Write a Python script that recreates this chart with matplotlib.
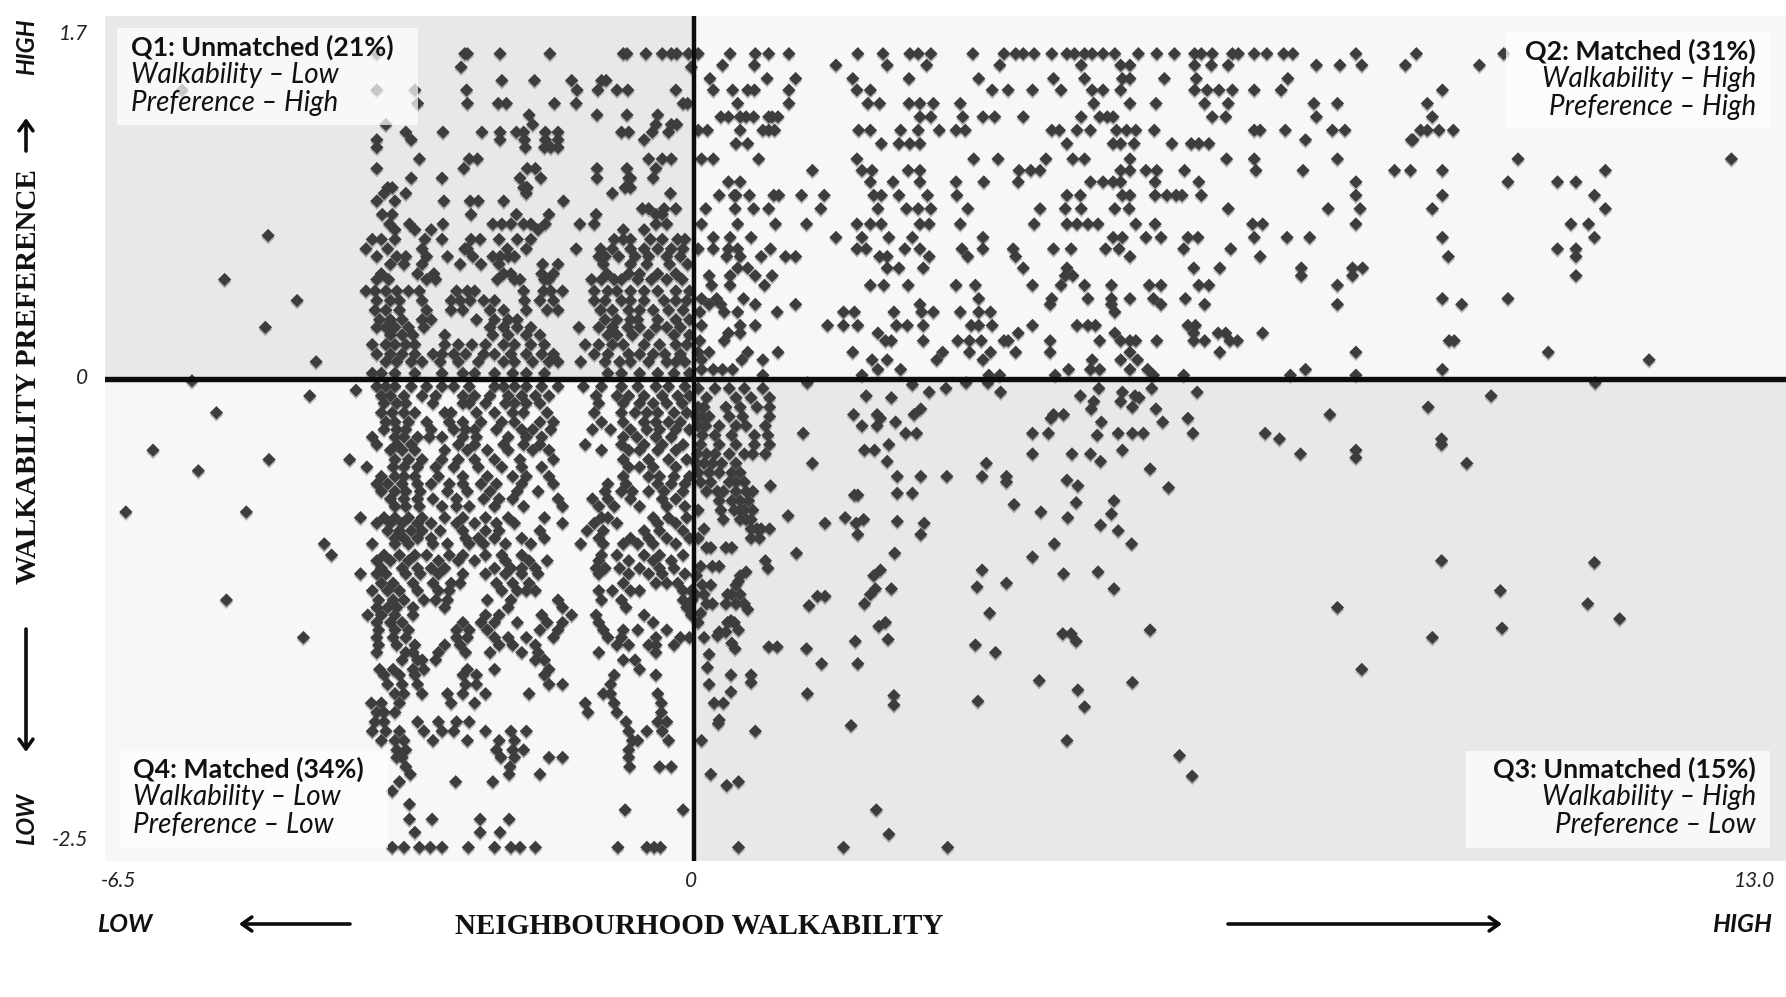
import numpy as np
import matplotlib
matplotlib.use("Agg")
import matplotlib.pyplot as plt
import matplotlib.patheffects as pe

# Each row: (preference, [walkability values])
q1_rows = [
(1.70,[-3.50,-2.53,-2.50,-2.14,-1.59,-0.78,-0.74,-0.53,-0.35,-0.25,-0.19,-0.06]),
(1.63,[-2.57,-0.03]),(1.56,[-2.12,-1.76,-1.35,-1.02,-0.97]),
(1.51,[-5.65,-3.50,-3.08,-2.51,-1.29,-1.06,-0.85,-0.73,-0.20]),
(1.44,[-3.05,-2.50,-2.16,-2.07,-1.54,-1.30,-0.12,-0.07]),
(1.38,[-1.07,-0.74,-0.40,-1.82]),(1.33,[-3.40,-1.78,-0.42,-0.25,-0.19]),
(1.29,[-3.18,-2.77,-2.34,-2.14,-1.96,-1.88,-1.64,-1.50,-0.80,-0.72,-0.46,-0.28]),
(1.25,[-3.50,-3.12,-2.14,-1.87,-1.64,-1.50,-0.55]),
(1.21,[-3.50,-1.86,-1.65,-1.58,-1.50]),
(1.15,[-2.48,-2.39,-3.03,-0.50,-0.35,-0.25]),
(1.10,[-3.50,-2.54,-1.84,-1.75,-1.07,-0.74,-0.42]),
(1.05,[-3.12,-2.78,-1.92,-1.69,-1.07,-0.72,-0.45,-0.70]),
(1.00,[-3.33,-3.38,-1.88,-1.85,-1.84,-0.76,-0.70]),
(0.97,[-3.42,-3.18,-1.85,-0.90,-0.26]),
(0.93,[-3.50,-2.76,-2.47,-2.38,-2.10,-1.44,-3.30]),
(0.89,[-0.57,-0.20,-0.50,-0.33]),
(0.86,[-3.44,-3.33,-2.46,-1.96,-1.60,-1.08,-0.35,-0.42]),
(0.81,[-3.36,-3.14,-2.77,-2.22,-2.12,-2.02,-1.88,-1.80,-1.64,-1.26,-1.10,-0.42,-0.30]),
(0.78,[-3.30,-3.08,-2.90,-1.72,-0.78,-0.55]),
(0.75,[-4.70]),
(0.73,[-3.45,-3.55,-3.30,-2.97,-2.78,-2.46,-2.36,-2.15,-1.95,-1.80,-0.88,-0.78,-0.70,-0.48,-0.35,-0.18,-0.10]),
(0.68,[-3.62,-3.38,-3.00,-2.50,-2.53,-2.06,-1.85,-1.30,-1.03,-0.90,-0.70,-0.55,-0.40,-0.25,-0.12]),
(0.64,[-3.50,-3.28,-3.18,-2.95,-2.72,-2.44,-2.22,-2.14,-2.05,-1.98,-1.05,-0.98,-0.83,-0.65,-0.50,-0.30,-0.15]),
(0.60,[-3.20,-3.00,-2.58,-2.35,-2.15,-1.67,-1.50,-1.00,-0.70,-0.52,-0.27,-0.07,-3.35]),
(0.55,[-3.45,-3.05,-2.87,-2.10,-2.02,-1.68,-1.55,-0.96,-0.72,-0.60,-0.40,-0.20]),
(0.52,[-5.18,-3.50,-3.37,-2.95,-2.85,-2.17,-1.98,-1.92,-1.65,-1.60,-1.13,-1.02,-0.88,-0.80,-0.62,-0.47,-0.30,-0.13]),
(0.46,[-3.62,-3.52,-3.40,-3.28,-3.15,-3.03,-2.62,-2.50,-2.42,-1.88,-1.66,-1.58,-1.45,-1.10,-0.95,-0.85,-0.70,-0.55,-0.40,-0.20,-0.05]),
(0.41,[-4.38,-3.50,-3.35,-3.25,-3.00,-2.68,-2.58,-2.47,-2.32,-2.20,-1.87,-1.70,-1.55,-1.10,-0.98,-0.80,-0.70,-0.55,-0.33,-0.20,-0.08]),
(0.36,[-3.52,-3.40,-3.25,-2.95,-2.68,-2.55,-2.25,-2.10,-1.85,-1.62,-1.50,-1.03,-0.90,-0.72,-0.60,-0.45,-0.28,-0.12]),
(0.31,[-3.47,-3.35,-3.22,-3.00,-2.90,-2.40,-2.20,-2.05,-1.95,-0.98,-0.85,-0.70,-0.62,-0.40,-0.20,-0.05]),
(0.27,[-4.73,-3.50,-3.40,-3.30,-3.15,-2.98,-2.25,-2.10,-1.95,-1.80,-1.27,-1.05,-0.90,-0.73,-0.60,-0.42,-0.30,-0.15]),
(0.23,[-3.35,-3.22,-3.10,-2.75,-2.22,-2.05,-1.85,-1.70,-0.95,-0.85,-0.68,-0.50,-0.22,-0.05]),
(0.18,[-3.55,-3.40,-3.30,-3.18,-3.08,-2.75,-2.60,-2.45,-2.30,-2.10,-1.98,-1.80,-1.65,-1.20,-1.05,-0.90,-0.78,-0.55,-0.38,-0.20,-0.08]),
(0.13,[-3.50,-3.35,-3.22,-3.08,-2.88,-2.78,-2.65,-2.52,-2.32,-2.20,-2.02,-1.85,-1.68,-1.55,-1.10,-0.95,-0.72,-0.60,-0.45,-0.32,-0.15]),
(0.09,[-4.17,-3.40,-3.28,-3.12,-3.00,-2.80,-2.60,-2.38,-2.10,-1.98,-1.78,-1.60,-1.50,-1.25,-0.98,-0.82,-0.70,-0.50,-0.30,-0.20,-0.10]),
(0.03,[-3.55,-3.45,-3.30,-3.08,-2.78,-2.55,-2.42,-2.20,-2.00,-1.85,-1.65,-0.95,-0.80,-0.60,-0.40,-0.22,-0.05]),
]

q2_rows = [
(1.70,[.05,.43,.73,.89,1.13,1.95,2.25,2.57,2.67,2.82,3.32,3.69,3.83,3.92,4.05,4.26,4.44,4.53,4.65,4.74,4.87,5.01,5.29,5.51,5.72,5.96,6.04,6.17,6.41,6.48,6.67,6.82,7.02,7.13,7.88,8.60,9.64]),
(1.64,[.34,.72,1.69,2.30,2.77,3.64,4.61,5.08,5.19,5.96,6.16,6.36,7.41,7.69,7.95,8.47,9.35]),
(1.57,[.19,.87,1.21,1.89,2.56,3.39,4.28,4.65,5.10,5.19,5.60,5.98,7.07]),
(1.51,[.23,.46,.64,.72,1.13,1.94,2.10,3.55,3.74,4.03,4.37,4.74,4.87,5.08,5.96,6.11,6.25,6.41,6.67,6.99,8.91]),
(1.44,[.52,1.13,2.07,2.21,2.56,2.69,2.85,3.17,4.76,5.19,5.50,6.08,6.36,7.38,7.66,8.73]),
(1.37,[.32,.41,.55,.62,.71,1.00,.89,.93,2.69,2.82,3.20,3.44,3.58,3.92,4.61,4.83,4.92,4.99,6.17,6.33,7.41,8.79]),
(1.30,[.05,.16,.55,.82,.89,.96,1.96,2.10,2.46,2.67,2.92,3.12,3.23,4.26,4.35,4.56,4.72,5.03,5.15,5.26,5.48,6.74,6.67,7.04,7.60,7.75,8.65,8.73,8.87,9.04]),
(1.25,[7.28,8.54,8.56]),
(1.23,[.50,.64,2.23,2.44,2.57,2.69,4.44,5.24,5.08,4.99,5.69,5.92,6.01,6.13]),
(1.15,[.09,.23,.77,1.94,3.33,3.62,4.19,4.51,4.65,5.19,6.34,6.67,7.66,9.81,12.35]),
(1.09,[1.41,2.00,2.12,2.55,2.69,3.87,4.01,4.12,5.08,5.19,5.38,5.51,5.84,6.69,7.25,8.34,8.53,8.91,10.85]),
(1.03,[.41,.55,2.10,2.37,2.69,3.12,3.45,3.86,4.72,4.87,4.99,5.08,5.49,6.01,7.88,9.69,10.28,10.50]),
(.96,[.50,.30,.48,.66,.95,1.01,1.28,1.55,2.14,2.23,2.44,2.78,3.13,4.44,4.60,5.10,5.19,5.49,5.63,5.74,5.81,6.04,7.88,8.91,10.72]),
(.89,[.14,.49,.71,.89,1.51,2.19,2.53,2.67,2.82,3.26,4.12,4.42,4.61,5.01,5.18,6.36,7.55,7.93,8.79,10.85]),
(.81,[.09,.52,.97,1.34,1.94,2.10,2.23,2.69,2.80,3.17,4.05,4.44,4.56,4.69,4.81,5.26,5.49,6.65,6.77,7.88,10.44,10.65]),
(.74,[.23,.43,.68,1.69,2.32,2.60,2.00,3.44,4.99,5.10,5.38,5.56,5.88,6.00,6.67,7.06,7.33,8.91,10.72]),
(.68,[.05,.23,.41,.52,.91,1.94,2.05,2.51,2.69,3.19,3.44,3.80,4.28,4.49,4.90,5.06,5.83,6.39,10.28,10.50]),
(.64,[.39,.55,.80,1.09,1.21,2.21,2.30,2.80,3.26,3.83,5.19,6.74,8.98,10.50]),
(.58,[.52,.64,2.30,2.44,2.73,3.92,4.44,5.95,6.26,7.23,7.84,7.96]),
(.54,[.18,.43,.73,.93,4.42,4.51,7.23,7.84,10.50]),
(.49,[.43,.21,.84,2.26,2.10,2.55,3.12,3.35,4.03,4.37,4.65,4.97,5.42,5.56,6.01,6.13,7.66]),
(.42,[.09,.27,.59,3.39,4.26,4.69,4.97,5.19,5.85,5.47,8.91,9.69]),
(.39,[.18,.32,.73,1.21,2.69,4.24,4.97,5.56,6.08,7.66,9.14]),
(.35,[.07,.36,.52,.99,1.78,1.91,2.38,2.71,2.85,3.17,3.39,3.53,5.01]),
(.28,[.09,.55,.73,1.59,1.78,1.95,2.41,2.54,2.73,3.30,3.39,3.55,4.03,4.56,4.69,4.78,5.88,5.97]),
(.24,[.41,.55,2.19,3.86,5.01,5.95,6.24,6.33,6.77]),
(.20,[.07,.36,2.28,2.35,2.73,3.14,3.28,3.42,3.69,3.74,4.24,4.83,5.08,5.19,5.26,5.51,5.95,6.08,6.38,6.47,8.99,9.05]),
(.14,[.05,.18,.64,1.00,1.89,2.96,3.53,3.28,3.83,4.24,5.19,6.26,7.88,10.17]),
(.10,[.09,.57,.82,2.12,2.30,2.89,3.44,4.74,5.08,5.28,11.37]),
(.05,[.09,.23,.34,.46,2.19,2.46,4.46,5.19,5.40,4.72,4.83,7.28,8.91]),
(.02,[.82,2.00,3.51,3.64,5.47,5.83,4.30,7.10,7.88]),
]

q3_rows = [
(-.02,[1.35,3.24,10.73,3.50]),(-.03,[2.60]),
(-.05,[.05,.25,.42,.60,.82,3.00,4.82,5.45]),
(-.07,[2.80,3.65,5.99,5.10]),(-.09,[2.05,4.60,9.49,5.25]),
(-.10,[.15,.50,.68,.90,2.35,5.30]),
(-.12,[4.76,5.08]),(-.15,[.05,.12,.38,.55,.75,.90,8.74,5.22]),
(-.16,[4.73,2.70,5.50]),(-.19,[7.57,1.90,2.18,2.62,4.28,4.40]),
(-.20,[.03,.10,.18,.42,.58,.90]),(-.21,[5.88,2.22,4.25]),
(-.23,[5.58,2.40,4.85]),(-.25,[.05,.14,.30,.50,.62,.85,2.00,2.18]),
(-.29,[1.30,6.80,5.94,2.65,5.35,5.22,5.05,4.03,4.22,2.52]),
(-.30,[.10,.25,.45,.72,.88,4.80]),(-.32,[6.97,8.90]),
(-.35,[.08,.30,.50,.72,.90,2.32,8.90]),(-.38,[7.88,5.10,2.15,2.03]),
(-.40,[.04,.15,.25,.42,.70,.85,.60,7.22,4.72,4.50,4.03]),
(-.42,[7.88]),(-.44,[2.30,4.84]),
(-.45,[.03,.12,.22,.33,.50,1.41,9.20,3.48]),(-.48,[5.43]),
(-.50,[.05,.18,.30,.45,.55]),(-.52,[2.42,2.70,3.01,3.43,3.72]),
(-.54,[4.44]),(-.55,[.08,.20,.42,.50,.60,3.72]),
(-.57,[.91,4.57]),(-.58,[5.65]),(-.60,[.28,.35,.50,.62,.70,.15]),
(-.61,[2.42,2.60]),(-.62,[1.91,1.95]),(-.65,[.30,.45,.55,.65,5.00]),
(-.66,[4.55]),(-.67,[3.81]),(-.70,[.05,.32,.48,.60,.55,.70]),
(-.71,[4.13]),(-.72,[4.97]),(-.73,[1.12]),(-.74,[1.80,4.45]),
(-.75,[.35,.55,.62,.68,2.02]),(-.76,[2.42]),(-.77,[1.56,1.93,2.74]),
(-.78,[4.84]),(-.80,[.12,.68,.75,.80,.90]),(-.81,[5.05]),
(-.83,[1.95,2.70]),(-.85,[.05,.68,.78]),(-.88,[5.21,4.29]),
(-.90,[.15,.20,.38,.45]),(-.93,[1.22,2.39]),(-.95,[4.03]),
(-.97,[.85,8.90]),(-.98,[10.72]),(-1.00,[.08,.22,.30]),
(-1.01,[.88]),(-1.02,[2.22,3.43]),(-1.03,[.62,4.81]),(-1.04,[4.40]),
(-1.05,[.03,.55,2.14]),(-1.08,[.53]),(-1.09,[3.72]),
(-1.10,[.10,.20,.50]),(-1.11,[3.37]),(-1.12,[2.35,2.16,5.00]),
(-1.13,[9.60]),(-1.15,[.02,.12,.40,.45,.55,2.10]),(-1.16,[1.56,1.47]),
(-1.20,[.15,.22,.38,.50,.60,2.03,10.64]),(-1.21,[1.37]),
(-1.22,[7.66]),(-1.23,[.64]),(-1.25,[.08,3.52]),(-1.28,[11.02]),
(-1.29,[.44]),(-1.30,[.05,.40,.48,2.28]),(-1.32,[2.20]),
(-1.33,[9.62]),(-1.34,[.53,5.43]),(-1.35,[.30,.38]),
(-1.36,[4.39,4.49]),(-1.37,[.28]),(-1.38,[.12,8.79]),(-1.39,[2.31]),
(-1.40,[1.92,4.55]),(-1.41,[.45]),(-1.42,[3.35]),(-1.43,[.89,.99]),
(-1.44,[1.34,.49]),(-1.46,[3.59]),(-1.47,[.18]),(-1.52,[1.52,1.95]),
(-1.54,[.16]),(-1.55,[7.95]),(-1.58,[.44,.68]),(-1.61,[4.11]),
(-1.62,[.68,5.22]),(-1.63,[.18]),(-1.66,[4.57]),(-1.67,[.44]),
(-1.68,[1.35]),(-1.69,[2.38]),(-1.72,[3.38]),(-1.73,[.24,.35]),
(-1.74,[2.38]),(-1.75,[4.65]),(-1.82,[.30]),(-1.84,[.29]),
(-1.85,[1.87]),(-1.88,[.73]),(-1.93,[.09,4.44]),(-2.01,[5.78]),
(-2.11,[.20]),(-2.12,[5.93]),(-2.15,[.53]),(-2.17,[.39]),
(-2.30,[2.17]),(-2.43,[2.32]),(-2.50,[.53,1.78,3.02]),
]

q4_rows = [
(-.01,[-5.54]),
(-.04,[-3.50,-3.40,-3.30,-3.12,-2.95,-2.78,-2.65,-2.48,-2.20,-2.10,-1.98,-1.85,-1.68,-1.50,-1.22,-1.02,-.80,-.62,-.42,-.28,-.10]),
(-.06,[-3.73]),
(-.09,[-4.24,-3.45,-3.35,-3.20,-3.00,-2.85,-2.55,-2.42,-2.25,-2.05,-1.90,-1.75,-1.60,-1.08,-.85,-.72,-.55,-.35,-.18,-.05]),
(-.13,[-3.42,-3.28,-3.18,-2.88,-2.55,-2.48,-2.30,-2.08,-1.98,-1.85,-1.70,-1.05,-.78,-.60,-.45,-.30,-.13]),
(-.18,[-5.27,-3.45,-3.33,-3.20,-3.08,-2.75,-2.68,-2.40,-2.20,-2.00,-1.88,-1.62,-1.10,-.80,-.65,-.52,-.40,-.22,-.08]),
(-.23,[-3.40,-3.30,-3.15,-2.95,-2.70,-2.55,-2.35,-2.12,-1.98,-1.70,-1.55,-1.02,-.78,-.55,-.42,-.28,-.15]),
(-.27,[-3.42,-3.28,-3.18,-2.90,-2.65,-2.52,-2.42,-2.18,-1.90,-1.78,-1.58,-1.12,-.92,-.70,-.52,-.38,-.20,-.05]),
(-.31,[-3.55,-3.30,-3.20,-3.05,-2.92,-2.78,-2.55,-2.40,-2.05,-1.85,-1.68,-.78,-.63,-.42,-.25]),
(-.35,[-3.50,-3.28,-3.12,-2.60,-2.42,-2.10,-1.88,-1.70,-1.20,-.80,-.55,-.35,-.12]),
(-.38,[-5.97,-3.35,-3.22,-3.08,-2.75,-2.50,-2.28,-2.05,-1.78,-1.60,-1.02,-.72,-.60,-.40,-.20]),
(-.43,[-4.69,-3.80,-3.30,-3.15,-3.00,-2.78,-2.60,-2.42,-2.20,-1.92,-1.55,-.78,-.50,-.28,-.08]),
(-.47,[-3.61,-3.32,-3.20,-3.05,-2.85,-2.65,-2.38,-2.12,-1.90,-1.68,-.72,-.60,-.45,-.20]),
(-.49,[-5.47]),
(-.52,[-3.45,-3.30,-3.20,-3.08,-2.82,-2.55,-2.28,-2.00,-1.85,-1.60,-.78,-.50,-.38,-.22,-.05]),
(-.56,[-3.50,-3.38,-3.22,-3.05,-2.90,-2.70,-2.55,-2.35,-2.18,-1.90,-1.55,-.95,-.75,-.40,-.25,-.10]),
(-.60,[-3.45,-3.30,-3.18,-3.02,-2.72,-2.50,-2.25,-1.95,-1.72,-.98,-.80,-.68,-.50,-.33,-.12]),
(-.64,[-3.35,-3.20,-3.05,-2.88,-2.62,-2.32,-2.15,-2.00,-1.50,-1.12,-.95,-.70,-.35,-.20]),
(-.68,[-3.30,-3.18,-3.03,-2.78,-2.62,-2.48,-2.20,-1.88,-1.45,-1.05,-.88,-.60,-.30,-.10]),
(-.71,[-6.27,-4.94]),
(-.74,[-3.68,-3.42,-3.30,-3.15,-3.00,-2.75,-2.55,-2.30,-2.05,-1.65,-1.02,-.95,-.45,-.28,-.08]),
(-.77,[-3.50,-3.35,-3.22,-3.05,-2.90,-2.62,-2.42,-2.18,-1.98,-1.45,-1.10,-.85,-.40,-.20]),
(-.81,[-3.38,-3.25,-3.12,-3.00,-2.80,-2.55,-2.30,-2.15,-1.70,-1.18,-1.00,-.55,-.38,-.12]),
(-.85,[-3.30,-3.20,-3.05,-2.90,-2.52,-2.38,-2.20,-1.90,-1.65,-1.05,-.70,-.50,-.30,-.05]),
(-.88,[-4.08,-3.55,-3.30,-3.15,-2.88,-2.72,-2.48,-2.32,-2.08,-1.80,-1.25,-1.00,-.78,-.62,-.45,-.20]),
(-.94,[-4.00,-3.42,-3.25,-3.08,-2.95,-2.70,-2.55,-2.30,-2.12,-1.90,-1.02,-.85,-.55,-.38,-.12]),
(-.97,[-3.50,-3.35,-3.15,-2.82,-2.60,-2.42,-2.08,-1.82,-1.62,-1.05,-.72,-.45,-.25]),
(-1.01,[-3.45,-3.22,-3.05,-2.90,-2.75,-2.20,-2.02,-1.90,-1.75,-1.08,-.98,-.82,-.60,-.38,-.22]),
(-1.04,[-3.68,-3.50,-3.40,-3.18,-3.02,-2.82,-2.55,-2.30,-2.08,-1.90,-1.72,-1.05,-.72,-.50,-.35,-.10]),
(-1.09,[-3.45,-3.32,-3.10,-2.88,-2.68,-2.58,-2.18,-2.00,-1.82,-.78,-.42,-.30,-.18]),
(-1.13,[-3.55,-3.38,-3.25,-3.05,-2.82,-2.70,-2.12,-1.95,-1.85,-1.75,-1.05,-.90,-.70,-.60,-.12,-.03]),
(-1.18,[-5.16,-3.48,-3.32,-3.20,-2.98,-2.85,-2.72,-2.28,-2.02,-1.50,-1.02,-.80,-.12,-.02]),
(-1.22,[-3.50,-3.38,-3.28,-3.10,-2.75,-2.05,-1.45,-.75,-.08]),
(-1.26,[-3.60,-3.45,-3.30,-3.10,-2.30,-2.15,-1.68,-1.35,-1.08,-.55,-.03]),
(-1.30,[-3.50,-3.35,-3.22,-2.55,-2.35,-2.20,-1.95,-1.62,-1.45,-1.05,-.45]),
(-1.34,[-3.48,-3.30,-3.15,-2.62,-2.48,-2.28,-1.70,-1.50,-1.00,-.78,-.62,-.30]),
(-1.38,[-4.31,-3.50,-3.32,-3.18,-2.62,-2.50,-2.20,-2.05,-1.85,-1.55,-.95,-.80,-.42,-.15,-.05]),
(-1.42,[-3.48,-3.28,-3.08,-2.75,-2.58,-2.15,-2.00,-1.75,-.85,-.72,-.50,-.42,-.22]),
(-1.46,[-3.50,-3.18,-3.10,-2.82,-2.52,-2.25,-1.90,-1.72,-1.05,-.42]),
(-1.50,[-3.22,-3.05,-3.00,-2.85,-1.75,-1.65,-.78,-.65]),
(-1.55,[-3.47,-3.32,-3.10,-2.98,-2.50,-2.20,-1.60,-.60]),
(-1.58,[-3.42,-3.25,-3.08,-2.55,-2.40,-1.65,-.88,-.42]),
(-1.63,[-3.38,-3.22,-3.05,-2.52,-2.40,-1.60,-1.45,-.92]),
(-1.68,[-3.30,-3.20,-3.00,-2.72,-2.55,-2.30,-1.82,-1.00,-.92,-.40]),
(-1.73,[-3.56,-3.45,-3.25,-2.68,-2.42,-1.20,-.88,-.36]),
(-1.78,[-3.50,-3.42,-3.30,-1.17,-.85,-.36]),
(-1.83,[-3.52,-3.42,-3.05,-2.82,-2.62,-2.48,-.75,-.40,-.30]),
(-1.88,[-3.55,-3.40,-3.25,-2.98,-2.78,-2.65,-2.30,-2.02,-1.85,-.72,-.52,-.35]),
(-1.93,[-3.45,-3.30,-3.20,-2.88,-2.50,-2.15,-1.98,-.68,-.62,-.28]),
(-1.98,[-3.28,-3.18,-2.18,-2.00,-1.88,-.72]),
(-2.02,[-3.28,-3.22,-2.13,-1.98,-1.60,-1.45,-.72]),
(-2.07,[-3.18,-2.03,-.71,-.38,-.25]),
(-2.11,[-3.13,-2.04,-1.70]),(-2.15,[-3.25,-2.22,-2.63]),
(-2.20,[-3.33]),(-2.27,[-3.14]),(-2.30,[-.76,-.12]),
(-2.35,[-3.14,-2.89,-2.36,-2.04]),(-2.42,[-3.08,-2.36,-2.14]),
(-2.50,[-3.33,-3.20,-3.03,-2.91,-2.78,-2.49,-2.20,-2.02,-1.92,-1.75,-.84,-.52,-.44,-.37]),
]

x_ticks = [-6.5, 0, 13]
x_tick_labels = ["-6.5", "0", "13.0"]
y_ticks = [1.7, 0, -2.5]
y_tick_labels = ["1.7", "0", "-2.5"]
x_lim = (-6.5, 13.0)
y_lim = (-2.573, 1.897)

W, H = 1786, 997
fig = plt.figure(figsize=(W/100, H/100), dpi=100, facecolor="white")
ax = fig.add_axes([105/W, 1-861/H, (W-105)/W, (861-16)/H])

# The printed axis is stretched differently either side of zero
XF = 0.3504
YF = 482/845 * 1.0
def xf(v):
    return np.interp(v, [x_lim[0], 0, x_lim[1]], [0, XF, 1], left=None, right=None)
def xi(v):
    return np.interp(v, [0, XF, 1], [x_lim[0], 0, x_lim[1]])
def yf(v):
    return np.interp(v, [y_lim[0], 0, y_lim[1]], [0, YF, 1])
def yi(v):
    return np.interp(v, [0, YF, 1], [y_lim[0], 0, y_lim[1]])
ax.set_xscale("function", functions=(xf, xi))
ax.set_yscale("function", functions=(yf, yi))
ax.set_xlim(*x_lim)
ax.set_ylim(*y_lim)
for s in ax.spines.values():
    s.set_visible(False)
ax.tick_params(length=0, labelbottom=False, labelleft=False)
ax.set_xticks([]); ax.set_yticks([])
ax.minorticks_off()
ax.set_xticks([], minor=True); ax.set_yticks([], minor=True)

DARK, LIGHT = "#e8e8e8", "#f7f7f7"
ax.fill_between([x_lim[0], 0], 0, y_lim[1], color=DARK, lw=0, zorder=0)
ax.fill_between([0, x_lim[1]], 0, y_lim[1], color=LIGHT, lw=0, zorder=0)
ax.fill_between([x_lim[0], 0], y_lim[0], 0, color=LIGHT, lw=0, zorder=0)
ax.fill_between([0, x_lim[1]], y_lim[0], 0, color=DARK, lw=0, zorder=0)

xs, ys = [], []
for rows in (q1_rows, q2_rows, q3_rows, q4_rows):
    for p, walk in rows:
        xs.extend(walk)
        ys.extend([p]*len(walk))
ax.scatter(xs, ys, marker="D", s=46, c="#3d3d3d", linewidths=0, zorder=2,
           path_effects=[pe.SimplePatchShadow(offset=(0, -1.6), shadow_rgbFace="#555555", alpha=0.4),
                         pe.Normal()])

ax.axhline(0, color="#0c0c0c", lw=3.9, zorder=4)
ax.axvline(0, color="#0c0c0c", lw=3.2, zorder=4)

def px(x, y):
    return x/W, 1-y/H

def box(x0, y0, x1, y1):
    fig.add_artist(plt.Rectangle((x0/W, 1-y1/H), (x1-x0)/W, (y1-y0)/H, transform=fig.transFigure,
                                 facecolor="white", alpha=0.72, lw=0, zorder=5))

BODY = "Lato"
def quad_text(x, y0, ha, title, l1, l2):
    fig.text(*px(x, y0+1), title, fontfamily=BODY, fontweight="bold", fontsize=19.3, ha=ha, va="center", zorder=6, color="#111111")
    fig.text(*px(x, y0+29), l1, fontfamily=BODY, style="italic", fontsize=20, ha=ha, va="center", zorder=6, color="#111111")
    fig.text(*px(x, y0+57), l2, fontfamily=BODY, style="italic", fontsize=20, ha=ha, va="center", zorder=6, color="#111111")

box(117, 28, 418, 125); quad_text(131, 46, "left", "Q1: Unmatched (21%)", "Walkability – Low", "Preference – High")
box(1506, 32, 1770, 128); quad_text(1756, 50, "right", "Q2: Matched (31%)", "Walkability – High", "Preference – High")
box(120, 751, 388, 848); quad_text(133, 768, "left", "Q4: Matched (34%)", "Walkability – Low", "Preference – Low")
box(1466, 751, 1770, 848); quad_text(1756, 768, "right", "Q3: Unmatched (15%)", "Walkability – High", "Preference – Low")

# Tick labels
tick_kw = dict(fontfamily=BODY, style="italic", fontsize=15, color="#222222", va="center")
for v, lab, xpos, ha in zip(x_ticks, x_tick_labels, [119, 691, 1775], ["center", "center", "right"]):
    fig.text(*px(xpos, 881), lab, ha=ha, **tick_kw)
for v, lab, ypos in zip(y_ticks, y_tick_labels, [34, 378, 840]):
    fig.text(*px(88, ypos), lab, ha="right", **tick_kw)

# Axis titles
fig.text(*px(699, 927), "NEIGHBOURHOOD WALKABILITY", fontfamily="Liberation Serif", fontweight="bold",
         fontsize=21, ha="center", va="center", color="#111111")
fig.text(*px(29, 377), "WALKABILITY PREFERENCE", fontfamily="Liberation Serif", fontweight="bold",
         fontsize=21, rotation=90, ha="center", va="center", color="#111111")
hl = dict(fontfamily=BODY, style="italic", fontweight="bold", fontsize=18, color="#111111", va="center")
fig.text(*px(125, 924), "LOW", ha="center", **hl)
fig.text(*px(1742, 924), "HIGH", ha="center", **hl)
fig.text(*px(27, 819), "LOW", rotation=90, ha="center", fontfamily=BODY, style="italic", fontweight="bold", fontsize=17, color="#111111", va="center")
fig.text(*px(27, 47), "HIGH", rotation=90, ha="center", fontfamily=BODY, style="italic", fontweight="bold", fontsize=17, color="#111111", va="center")

def arrow(x0, y0, x1, y1):
    fig.add_artist(matplotlib.patches.FancyArrowPatch(px(x0, y0), px(x1, y1), transform=fig.transFigure,
                   arrowstyle="->,head_length=7,head_width=5", lw=2.6, color="#0c0c0c", shrinkA=0, shrinkB=0))
arrow(350, 924, 239, 924)
arrow(1228, 924, 1502, 924)
arrow(26, 151, 26, 118)
arrow(26, 629, 26, 752)

fig.savefig("out.png", dpi=100, facecolor="white")
